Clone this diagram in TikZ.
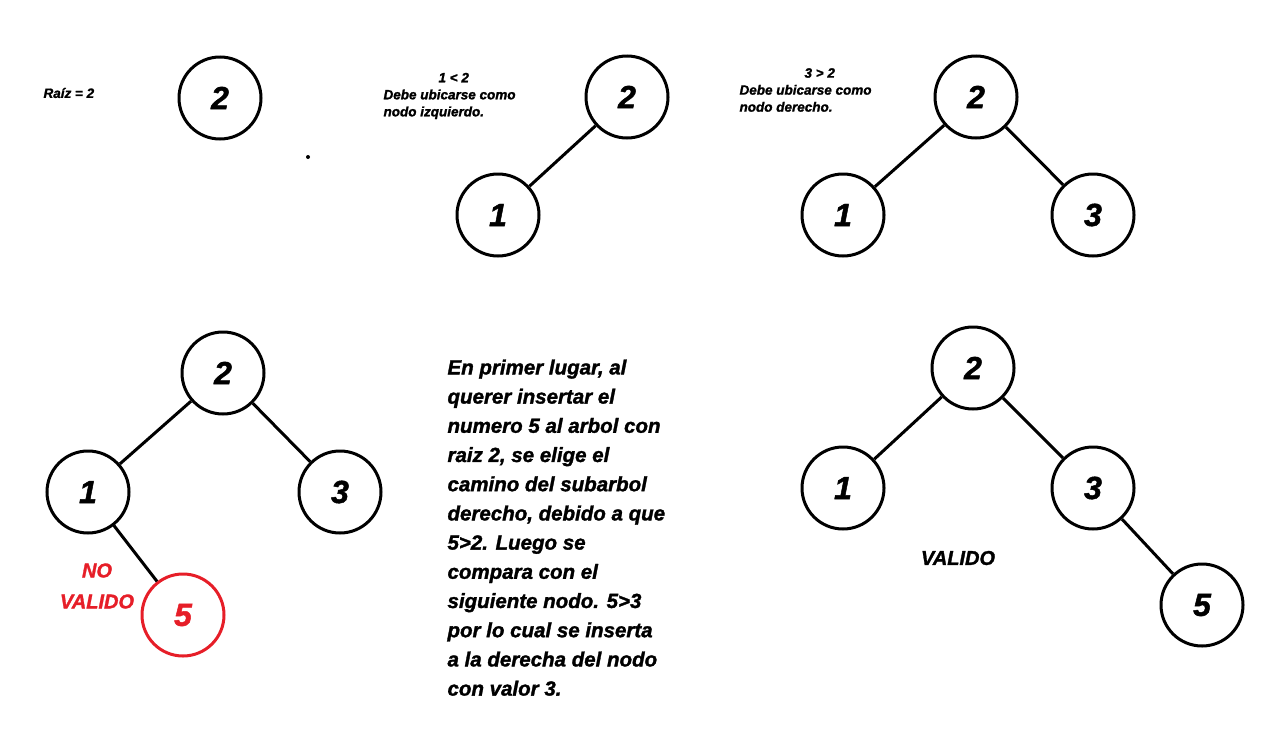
\documentclass[tikz,border=0pt]{standalone}
\usepackage{fontspec}
\setmainfont{Liberation Sans}[BoldItalicFeatures={FakeBold=1.5}]
\begin{document}
\begin{tikzpicture}[x=1pt,y=-1pt,
  nd/.style={circle,draw,line width=3pt,minimum size=82pt,inner sep=0pt,font=\fontsize{32}{32}\selectfont\bfseries\itshape},
  rd/.style={nd,draw={rgb,255:red,230;green,30;blue,40},text={rgb,255:red,230;green,30;blue,40}},
  ed/.style={line width=3pt},
  sm/.style={font=\fontsize{13.5}{17}\selectfont\bfseries\itshape,align=left,anchor=west}]
\useasboundingbox (0,0) rectangle (1265,755);
\node[nd] (a2) at (220,98) {2};
\node[sm] (ta) at (40,93) {Raíz = 2};
\fill (308,157) circle (2pt);
\node[nd] (b2) at (627,97) {2};
\node[nd] (b1) at (498,215) {1};
\draw[ed] (b2)--(b1);
\node[sm] (tb) at (380,96) {\hspace*{55pt}1 < 2\\Debe ubicarse como\\nodo izquierdo.};
\node[nd] (c2) at (976,97) {2};
\node[nd] (c1) at (843,215) {1};
\node[nd] (c3) at (1093,215) {3};
\draw[ed] (c2)--(c1); \draw[ed] (c2)--(c3);
\node[sm] (tc) at (736,90) {\hspace*{65pt}3 > 2\\Debe ubicarse como\\nodo derecho.};
\node[nd] (d2) at (223,373) {2};
\node[nd] (d1) at (88,492) {1};
\node[nd] (d3) at (340,492) {3};
\node[rd] (d5) at (183,615) {5};
\draw[ed] (d2)--(d1); \draw[ed] (d2)--(d3); \draw[ed] (d1)--(d5);
\node[font=\fontsize{20}{31}\selectfont\bfseries\itshape,align=center,text={rgb,255:red,230;green,30;blue,40}] (nv) at (97,586) {NO\\VALIDO};
\node[nd] (e2) at (973,368) {2};
\node[nd] (e1) at (843,488) {1};
\node[nd] (e3) at (1093,488) {3};
\node[nd] (e5) at (1202,605) {5};
\draw[ed] (e2)--(e1); \draw[ed] (e2)--(e3); \draw[ed] (e3)--(e5);
\node[font=\fontsize{20}{22}\selectfont\bfseries\itshape] (v) at (958,558) {VALIDO};
\node[font=\fontsize{20.5}{29.2}\selectfont\bfseries\itshape,align=left,anchor=north west] (p) at (444,356) {En primer lugar, al\\querer insertar el\\numero 5 al arbol con\\raiz 2, se elige el\\camino del subarbol\\derecho, debido a que\\5>2. Luego se\\compara con el\\siguiente nodo. 5>3\\por lo cual se inserta\\a la derecha del nodo\\con valor 3.};
\end{tikzpicture}
\end{document}
